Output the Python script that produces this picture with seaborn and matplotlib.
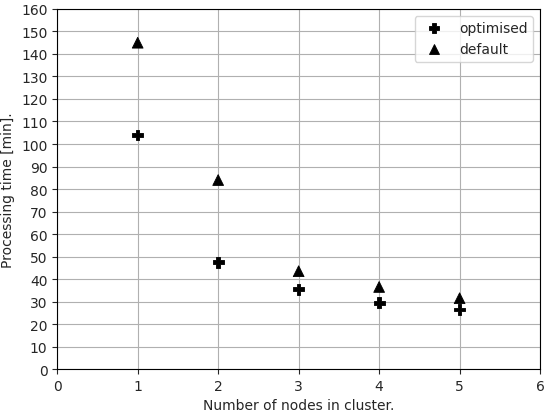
import matplotlib
matplotlib.use('Agg')
import matplotlib.pyplot as plt
import seaborn as sns
import pandas as pd

nodes = [1, 2, 3, 4, 5]
optimised = [104, 47.5, 35.5, 29.5, 26.5]
default = [145, 84, 43.5, 36.5, 31.5]

sns.set_style('ticks')
plt.rcParams['font.family'] = ['DejaVu Sans']

df = pd.DataFrame({
    'nodes': nodes * 2,
    'time': optimised + default,
    'series': ['optimised'] * 5 + ['default'] * 5,
})

fig, ax = plt.subplots(figsize=(5.5, 4.14), dpi=100)
sns.scatterplot(data=df, x='nodes', y='time', hue='series', style='series',
                markers={'optimised': 'P', 'default': '^'},
                palette={'optimised': 'black', 'default': 'black'},
                s=60, edgecolor='black', ax=ax, zorder=3)
ax.set_xlim(0, 6)
ax.set_ylim(0, 160)
ax.set_xticks(range(0, 7))
ax.set_yticks(range(0, 161, 10))
ax.grid(True, color='#b0b0b0', linewidth=0.8)
ax.set_xlabel('Number of nodes in cluster.')
ax.set_ylabel('Processing time [min].')
ax.legend(title=None, loc='upper right')
for s in ax.spines.values():
    s.set_visible(True)
    s.set_color('black')
fig.subplots_adjust(left=0.104, right=0.982, top=0.976, bottom=0.106)
plt.savefig('out.png')
plt.close()
